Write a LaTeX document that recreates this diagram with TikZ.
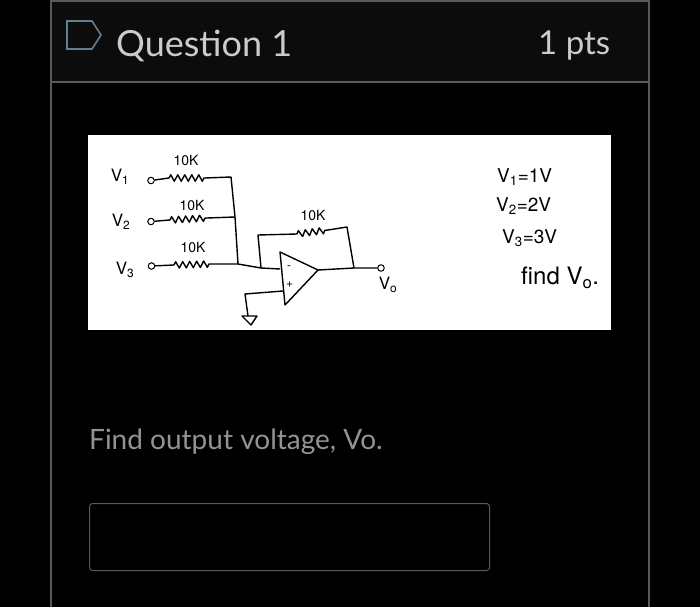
\documentclass[tikz,border=0pt]{standalone}
\usepackage{fontspec}
\setmainfont{Lato}
\newfontfamily\handfont{TeX Gyre Heros}
\usetikzlibrary{decorations.pathmorphing}
\definecolor{panelgray}{HTML}{0C0C0C}
\definecolor{framegray}{HTML}{5A5A5A}
\definecolor{textgray}{HTML}{C9CDD0}
\definecolor{flagblue}{HTML}{5F7F92}

\begin{document}
\begin{tikzpicture}[
    x=1pt, y=-1pt,
    frame line/.style={draw=framegray, line width=1.2pt},
    page text/.style={text=textgray, anchor=base west, inner sep=0pt},
    wire/.style={draw=black, line width=1.4pt, line join=round},
    resistor/.style={wire, decorate, decoration={zigzag, segment length=7pt, amplitude=3.2pt}},
    terminal/.style={draw=black, circle, line width=1pt, fill=white, minimum size=6.5pt, inner sep=0pt},
    hand label/.style={font=\handfont\fontsize{17}{17}\selectfont, text=black, inner sep=0pt},
    value label/.style={font=\handfont\fontsize{14}{14}\selectfont, text=black, inner sep=0pt},
    sign label/.style={font=\handfont\fontsize{12}{12}\selectfont, text=black, inner sep=0pt},
    given label/.style={font=\handfont\fontsize{19}{19}\selectfont, text=black, inner sep=0pt, anchor=west}
]
    % Page and question panel
    \useasboundingbox (0,0) rectangle (700,607);
    \fill[black] (0,0) rectangle (700,607);
    \fill[panelgray] (51,1) rectangle (649,82);
    \draw[frame line] (51,607) -- (51,1) -- (649,1) -- (649,607);
    \draw[frame line] (51,82) -- (649,82);
    \draw[flagblue, line width=1.6pt] (67,21) -- (92,21) -- (101,35) -- (92,49) -- (67,49) -- cycle;
    \node[page text, font=\fontsize{36}{36}\selectfont] (title) at (116,56.5) {Question 1};
    \node[page text, font=\fontsize{33}{33}\selectfont] (points) at (538,55) {1 pts};

    % Scanned sheet
    \fill[white] (88,135) rectangle (611,330);

    % Input terminals and named points
    \node[terminal] (in1) at (151,180.5) {};
    \node[terminal] (in2) at (151,221.5) {};
    \node[terminal] (in3) at (151.5,266) {};
    \coordinate (r1a) at (169,178);
    \coordinate (r1b) at (205,178);
    \coordinate (r2a) at (170,220);
    \coordinate (r2b) at (207,218);
    \coordinate (r3a) at (174,265);
    \coordinate (r3b) at (211,264);
    \coordinate (bus1) at (231,177);
    \coordinate (bus2) at (235,217);
    \coordinate (bus3) at (238,264);
    \coordinate (minus) at (280,269);
    \coordinate (plus) at (283,291);
    \coordinate (opa) at (280,252);
    \coordinate (opb) at (285,305);
    \coordinate (opc) at (318,270);
    \coordinate (fbin) at (261,268);
    \coordinate (fbtop) at (258,235);
    \coordinate (r4a) at (297,234);
    \coordinate (r4b) at (328,230);
    \coordinate (fbright) at (347,227);
    \coordinate (fbout) at (354,268);
    \coordinate (gndbend) at (245,294);
    \coordinate (gndtop) at (248,316);
    \node[terminal] (out) at (381,268) {};

    % Input branches
    \draw[wire] (in1) -- (r1a);
    \draw[resistor] (r1a) -- (r1b);
    \draw[wire] (r1b) -- (bus1) -- (bus2) -- (bus3);
    \draw[wire] (in2) -- (r2a);
    \draw[resistor] (r2a) -- (r2b);
    \draw[wire] (r2b) -- (bus2);
    \draw[wire] (in3) -- (r3a);
    \draw[resistor] (r3a) -- (r3b);
    \draw[wire] (r3b) -- (bus3) -- (fbin) -- (minus);

    % Op amp
    \draw[wire] (opa) -- (opc) -- (opb) -- cycle;
    \draw[wire] (opc) -- (fbout) -- (out);
    \node[sign label] (minussign) at (289,268) {-};
    \node[sign label] (plussign) at (289.5,285) {+};

    % Feedback
    \draw[wire] (fbin) -- (fbtop) -- (r4a);
    \draw[resistor] (r4a) -- (r4b);
    \draw[wire] (r4b) -- (fbright) -- (fbout);

    % Ground
    \draw[wire] (plus) -- (gndbend) -- (gndtop);
    \draw[wire] (242,316) -- (257,316) -- (251,325) -- cycle;

    % Labels on the circuit
    \node[hand label] (v1) at (120,177) {V\textsubscript{1}};
    \node[hand label] (v2) at (121,222) {V\textsubscript{2}};
    \node[hand label] (v3) at (125,270) {V\textsubscript{3}};
    \node[hand label] (vo) at (388,285) {V\textsubscript{o}};
    \node[value label] (r1) at (186,161) {10K};
    \node[value label] (r2) at (192,206) {10K};
    \node[value label] (r3) at (193,247) {10K};
    \node[value label] (r4) at (313,215) {10K};

    % Given values
    \node[given label] (given1) at (497,177) {V\textsubscript{1}=1V};
    \node[given label] (given2) at (496,206) {V\textsubscript{2}=2V};
    \node[given label] (given3) at (502,238) {V\textsubscript{3}=3V};
    \node[given label, font=\handfont\fontsize{24}{24}\selectfont] (find) at (521,278) {find V\textsubscript{o}.};

    % Question text and answer box
    \node[page text, font=\fontsize{28}{28}\selectfont, text=gray!85] (question) at (89,449) {Find output voltage, Vo.};
    \node[draw=framegray, rounded corners=3pt, line width=1pt, minimum width=400pt, minimum height=67pt, anchor=north west, inner sep=0pt] (answer) at (89,503) {};
\end{tikzpicture}
\end{document}
